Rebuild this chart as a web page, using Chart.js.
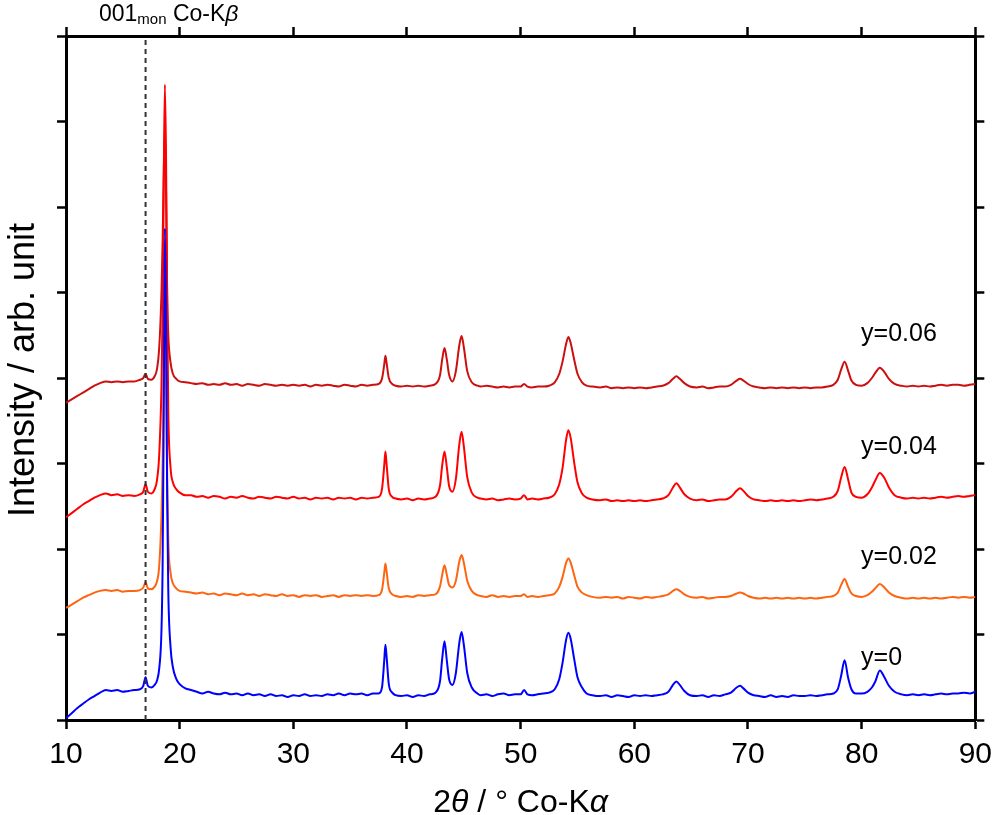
<!DOCTYPE html>
<html>
<head>
<meta charset="utf-8">
<script src="https://cdn.jsdelivr.net/npm/chart.js@4.4.1/dist/chart.umd.min.js"></script>
<style>
  html, body { margin: 0; padding: 0; background: #fff; }
  canvas { display: block; }
</style>
</head>
<body>
<canvas id="xrd" width="1000" height="815"></canvas>
<script>
'use strict';

// 2theta grid (deg, Co-Ka), shared by all four patterns
const twoTheta = [
  10, 10.5, 11, 11.5, 12, 12.5, 13, 13.5, 14, 14.5, 15, 15.5, 16, 16.5,
  16.8, 17.0, 17.2, 17.5, 17.8, 18.0, 18.2, 18.4, 18.5, 18.6, 18.7, 18.8, 18.9, 19.0, 19.2, 19.4, 19.7, 20.0, 20.5,
  21, 21.5, 22, 22.5, 23, 23.5, 24, 24.5, 25, 25.5, 26, 26.5, 27, 27.5, 28, 28.5, 29, 29.5, 30, 30.5, 31, 31.5, 32, 32.5, 33, 33.5, 34, 34.5, 35, 35.5, 36, 36.5, 37,
  37.5, 37.8, 38.0, 38.1, 38.2, 38.4, 38.7, 39.0, 39.5, 40, 40.5, 41, 41.5, 42,
  42.5, 42.9, 43.1, 43.3, 43.5, 43.7, 44.0, 44.3, 44.6, 44.8, 45.0, 45.3, 45.7, 46.2,
  46.5, 47, 47.5, 48, 48.5, 49, 49.5, 50, 50.3, 50.6, 51, 51.5, 52,
  52.5, 53.0, 53.4, 53.7, 54.0, 54.2, 54.4, 54.7, 55.0, 55.4, 55.8, 56.3,
  57, 57.5, 58, 58.5, 59, 59.5, 60, 60.5, 61, 61.5, 62, 62.5,
  63.0, 63.4, 63.7, 64.0, 64.4, 64.9, 65.5, 66, 66.5, 67, 67.5, 68, 68.5, 69.0, 69.3, 69.6, 70.0, 70.5,
  71, 71.5, 72, 72.5, 73, 73.5, 74, 74.5, 75, 75.5, 76, 76.5, 77, 77.5,
  77.9, 78.2, 78.5, 78.8, 79.1, 79.5, 80.0, 80.5, 80.9, 81.2, 81.6, 82.0, 82.4, 82.9, 83.5,
  84, 84.5, 85, 85.5, 86, 86.5, 87, 87.5, 88, 88.5, 89, 89.5, 90
];

// stacked intensities (arb. unit, one y tick = 1)
const y000 = [
  0.02, 0.08, 0.14, 0.19, 0.24, 0.28, 0.32, 0.35, 0.34, 0.35, 0.33, 0.34, 0.35, 0.36,
  0.40, 0.50, 0.40, 0.38, 0.41, 0.46, 0.60, 1.05, 1.80, 3.60, 5.75, 4.60, 2.60, 1.50, 0.85, 0.62, 0.48, 0.42, 0.37,
  0.35, 0.33, 0.31, 0.33, 0.31, 0.30, 0.32, 0.30, 0.31, 0.29, 0.31, 0.29, 0.30, 0.28, 0.30, 0.28, 0.29, 0.27, 0.29, 0.28, 0.30, 0.28, 0.29, 0.28, 0.30, 0.29, 0.31, 0.29, 0.31, 0.30, 0.31, 0.29, 0.31,
  0.31, 0.38, 0.70, 0.88, 0.75, 0.42, 0.32, 0.29, 0.28, 0.29, 0.27, 0.29, 0.28, 0.30,
  0.32, 0.45, 0.72, 0.92, 0.70, 0.48, 0.41, 0.55, 0.90, 1.03, 0.88, 0.55, 0.38, 0.31,
  0.29, 0.30, 0.28, 0.30, 0.31, 0.29, 0.30, 0.30, 0.35, 0.30, 0.29, 0.30, 0.31,
  0.32, 0.36, 0.48, 0.68, 0.94, 1.02, 0.95, 0.72, 0.50, 0.38, 0.31, 0.29,
  0.28, 0.29, 0.27, 0.29, 0.28, 0.27, 0.29, 0.28, 0.29, 0.28, 0.29, 0.30,
  0.33, 0.41, 0.45, 0.41, 0.34, 0.29, 0.28, 0.29, 0.27, 0.29, 0.28, 0.30, 0.32, 0.38, 0.40, 0.37, 0.32, 0.29,
  0.28, 0.27, 0.29, 0.27, 0.28, 0.27, 0.29, 0.28, 0.28, 0.29, 0.28, 0.29, 0.30, 0.31,
  0.36, 0.52, 0.70, 0.50, 0.36, 0.31, 0.31, 0.33, 0.38, 0.45, 0.58, 0.50, 0.40, 0.33, 0.30,
  0.29, 0.30, 0.29, 0.30, 0.29, 0.30, 0.31, 0.30, 0.31, 0.31, 0.32, 0.31, 0.33
];
const y002 = [
  1.31, 1.35, 1.39, 1.43, 1.46, 1.49, 1.51, 1.52, 1.51, 1.52, 1.50, 1.51, 1.51, 1.52,
  1.55, 1.61, 1.54, 1.53, 1.56, 1.62, 1.80, 2.40, 3.00, 4.20, 5.30, 4.40, 2.90, 2.10, 1.72, 1.60, 1.54, 1.51, 1.50,
  1.49, 1.48, 1.49, 1.47, 1.48, 1.46, 1.48, 1.47, 1.46, 1.48, 1.46, 1.47, 1.45, 1.47, 1.46, 1.45, 1.47, 1.45, 1.46, 1.44, 1.46, 1.45, 1.46, 1.44, 1.45, 1.46, 1.44, 1.46, 1.45, 1.46, 1.45, 1.46, 1.45,
  1.46, 1.52, 1.72, 1.83, 1.74, 1.54, 1.47, 1.45, 1.44, 1.45, 1.44, 1.46, 1.45, 1.46,
  1.47, 1.56, 1.70, 1.81, 1.70, 1.58, 1.55, 1.63, 1.85, 1.93, 1.84, 1.63, 1.51, 1.46,
  1.45, 1.44, 1.46, 1.44, 1.45, 1.44, 1.45, 1.45, 1.47, 1.44, 1.45, 1.44, 1.45,
  1.46, 1.48, 1.56, 1.68, 1.84, 1.89, 1.84, 1.70, 1.56, 1.49, 1.46, 1.44,
  1.43, 1.44, 1.43, 1.44, 1.42, 1.44, 1.43, 1.42, 1.44, 1.43, 1.44, 1.45,
  1.47, 1.51, 1.53, 1.51, 1.47, 1.44, 1.43, 1.44, 1.42, 1.43, 1.44, 1.44, 1.45, 1.48, 1.49, 1.48, 1.45, 1.43,
  1.42, 1.43, 1.42, 1.43, 1.42, 1.43, 1.42, 1.43, 1.42, 1.43, 1.42, 1.43, 1.44, 1.45,
  1.49, 1.58, 1.65, 1.56, 1.48, 1.45, 1.44, 1.46, 1.50, 1.54, 1.59, 1.55, 1.49, 1.45, 1.43,
  1.42, 1.43, 1.42, 1.43, 1.42, 1.43, 1.42, 1.43, 1.44, 1.43, 1.44, 1.43, 1.44
];
const y004 = [
  2.37, 2.42, 2.47, 2.52, 2.56, 2.60, 2.63, 2.65, 2.63, 2.64, 2.62, 2.63, 2.62, 2.64,
  2.67, 2.76, 2.67, 2.65, 2.70, 2.80, 3.10, 3.90, 4.80, 6.30, 7.43, 6.60, 4.90, 3.60, 2.95, 2.78, 2.70, 2.66, 2.63,
  2.63, 2.61, 2.62, 2.60, 2.62, 2.61, 2.59, 2.61, 2.60, 2.62, 2.60, 2.59, 2.61, 2.60, 2.59, 2.61, 2.60, 2.59, 2.61, 2.59, 2.60, 2.58, 2.60, 2.59, 2.60, 2.58, 2.60, 2.59, 2.60, 2.58, 2.60, 2.59, 2.60,
  2.61, 2.70, 2.98, 3.14, 3.00, 2.70, 2.61, 2.59, 2.58, 2.59, 2.57, 2.59, 2.58, 2.59,
  2.61, 2.74, 2.98, 3.14, 2.96, 2.74, 2.67, 2.82, 3.22, 3.37, 3.20, 2.84, 2.66, 2.60,
  2.59, 2.58, 2.59, 2.57, 2.58, 2.59, 2.58, 2.59, 2.63, 2.58, 2.59, 2.58, 2.59,
  2.60, 2.64, 2.76, 2.96, 3.28, 3.39, 3.30, 3.02, 2.78, 2.65, 2.60, 2.58,
  2.57, 2.58, 2.56, 2.57, 2.56, 2.57, 2.56, 2.57, 2.56, 2.57, 2.58, 2.59,
  2.63, 2.72, 2.77, 2.72, 2.64, 2.59, 2.57, 2.58, 2.56, 2.57, 2.58, 2.58, 2.61, 2.68, 2.71, 2.68, 2.62, 2.58,
  2.57, 2.56, 2.57, 2.56, 2.57, 2.56, 2.57, 2.56, 2.57, 2.58, 2.57, 2.58, 2.59, 2.61,
  2.68, 2.84, 2.96, 2.82, 2.66, 2.61, 2.60, 2.64, 2.72, 2.80, 2.89, 2.83, 2.72, 2.63, 2.60,
  2.59, 2.60, 2.59, 2.60, 2.59, 2.60, 2.61, 2.60, 2.61, 2.62, 2.61, 2.62, 2.63
];
const y006 = [
  3.71, 3.75, 3.79, 3.83, 3.87, 3.91, 3.94, 3.96, 3.95, 3.96, 3.95, 3.96, 3.96, 3.98,
  4.00, 4.05, 3.99, 3.98, 4.02, 4.10, 4.35, 5.00, 5.60, 6.40, 6.90, 6.20, 5.00, 4.50, 4.18, 4.05, 3.99, 3.96, 3.95,
  3.94, 3.93, 3.94, 3.92, 3.93, 3.92, 3.94, 3.92, 3.93, 3.91, 3.93, 3.92, 3.91, 3.93, 3.92, 3.91, 3.92, 3.91, 3.92, 3.91, 3.92, 3.90, 3.92, 3.91, 3.92, 3.91, 3.90, 3.92, 3.91, 3.90, 3.92, 3.91, 3.92,
  3.93, 3.99, 4.16, 4.26, 4.18, 4.00, 3.93, 3.91, 3.90, 3.91, 3.90, 3.91, 3.90, 3.91,
  3.93, 4.03, 4.22, 4.35, 4.22, 4.04, 3.96, 4.08, 4.38, 4.49, 4.36, 4.08, 3.95, 3.91,
  3.90, 3.91, 3.90, 3.89, 3.90, 3.89, 3.90, 3.90, 3.93, 3.90, 3.89, 3.90, 3.90,
  3.91, 3.95, 4.05, 4.20, 4.40, 4.48, 4.41, 4.22, 4.05, 3.95, 3.91, 3.90,
  3.89, 3.90, 3.88, 3.89, 3.88, 3.89, 3.88, 3.89, 3.88, 3.89, 3.90, 3.91,
  3.94, 3.99, 4.02, 3.99, 3.94, 3.90, 3.89, 3.90, 3.88, 3.89, 3.90, 3.90, 3.92, 3.97, 3.99, 3.97, 3.93, 3.90,
  3.89, 3.88, 3.89, 3.88, 3.89, 3.88, 3.89, 3.88, 3.89, 3.88, 3.89, 3.89, 3.90, 3.92,
  3.98, 4.10, 4.19, 4.09, 3.97, 3.92, 3.91, 3.94, 4.00, 4.06, 4.12, 4.07, 3.99, 3.93, 3.91,
  3.90, 3.91, 3.90, 3.91, 3.90, 3.91, 3.92, 3.91, 3.92, 3.92, 3.91, 3.92, 3.93
];

const sampleNames = ['y=0', 'y=0.02', 'y=0.04', 'y=0.06'];
const sampleColors = ['#0000ff', '#ff6510', '#ff0000', '#cc1010'];
// where the sample names sit (data units)
const nameAtX = 79.95;
const nameLevels = [0.64, 1.83, 3.11, 4.43];

const kBeta = 17.0;   // 001 mon Co-Kb position
const xMin = 10, xMax = 90, xStep = 10;
const yMin = 0, yMax = 8;

const FONT = '"Liberation Sans", Arial, Helvetica, sans-serif';

function toPoints(vals) {
  return twoTheta.map((t, i) => ({ x: t, y: vals[i] }));
}

function pattern(vals, color) {
  return {
    data: toPoints(vals),
    borderColor: color,
    borderWidth: 2,
    pointRadius: 0,
    cubicInterpolationMode: 'monotone',
    fill: false
  };
}

// draws a row of text pieces, some in italic
function drawPieces(ctx, pieces, x, y, align) {
  let total = 0;
  pieces.forEach(p => {
    ctx.font = p.font;
    p.w = ctx.measureText(p.text).width;
    total += p.w;
  });
  let cx = align === 'center' ? x - total / 2 : x;
  pieces.forEach(p => {
    ctx.font = p.font;
    ctx.fillText(p.text, cx, y + (p.dy || 0));
    cx += p.w;
  });
}

const textPlugin = {
  id: 'xrdText',
  afterDraw(chart) {
    const ctx = chart.ctx;
    const xs = chart.scales.x;
    const ys = chart.scales.y;
    const area = chart.chartArea;
    ctx.save();
    ctx.fillStyle = '#000';
    ctx.textBaseline = 'alphabetic';
    ctx.textAlign = 'left';

    // sample names
    ctx.font = '25px ' + FONT;
    sampleNames.forEach((name, i) => {
      ctx.fillText(name, xs.getPixelForValue(nameAtX), ys.getPixelForValue(nameLevels[i]));
    });

    // x axis title
    drawPieces(ctx, [
      { text: '2', font: '32px ' + FONT },
      { text: 'θ', font: 'italic 32px ' + FONT },
      { text: ' / ° Co-K', font: '32px ' + FONT },
      { text: 'α', font: 'italic 32px ' + FONT }
    ], (area.left + area.right) / 2, 812, 'center');

    // top label over the dashed line
    drawPieces(ctx, [
      { text: '001', font: '23px ' + FONT },
      { text: 'mon', font: '15px ' + FONT, dy: 3 },
      { text: ' Co-K', font: '23px ' + FONT },
      { text: 'β', font: 'italic 23px ' + FONT }
    ], 99, 21, 'left');

    // y axis title
    ctx.translate(34, 370);
    ctx.rotate(-Math.PI / 2);
    ctx.textAlign = 'center';
    ctx.font = '36px ' + FONT;
    ctx.fillText('Intensity / arb. unit', 0, 0);
    ctx.restore();
  }
};

const frameGrid = {
  drawOnChartArea: false,
  drawTicks: true,
  tickLength: 9,
  tickWidth: 2.5,
  tickColor: '#000'
};
const frameBorder = { display: true, color: '#000', width: 3 };

const datasets = [
  {
    data: [{ x: kBeta, y: yMin }, { x: kBeta, y: yMax }],
    borderColor: '#333',
    borderWidth: 2,
    borderDash: [5, 4],
    pointRadius: 0
  },
  pattern(y000, sampleColors[0]),
  pattern(y004, sampleColors[2]),
  pattern(y006, sampleColors[3]),
  pattern(y002, sampleColors[1])
];

new Chart(document.getElementById('xrd'), {
  type: 'line',
  data: { datasets: datasets },
  options: {
    responsive: false,
    animation: false,
    layout: { padding: 0 },
    plugins: { legend: { display: false }, tooltip: { enabled: false } },
    scales: {
      x: {
        type: 'linear', position: 'bottom', min: xMin, max: xMax,
        ticks: { stepSize: xStep, color: '#000', padding: 8, font: { size: 30, family: FONT } },
        grid: frameGrid, border: frameBorder,
        afterFit: s => { s.height = 95; }
      },
      x2: {
        type: 'linear', position: 'top', min: xMin, max: xMax,
        ticks: { stepSize: xStep, display: false },
        grid: frameGrid, border: frameBorder,
        afterFit: s => { s.height = 36; }
      },
      y: {
        type: 'linear', position: 'left', min: yMin, max: yMax,
        ticks: { stepSize: 1, display: false },
        grid: frameGrid, border: frameBorder,
        afterFit: s => { s.width = 66; }
      },
      y2: {
        type: 'linear', position: 'right', min: yMin, max: yMax,
        ticks: { stepSize: 1, display: false },
        grid: frameGrid, border: frameBorder,
        afterFit: s => { s.width = 20; }
      }
    }
  },
  plugins: [textPlugin]
});
</script>
</body>
</html>
